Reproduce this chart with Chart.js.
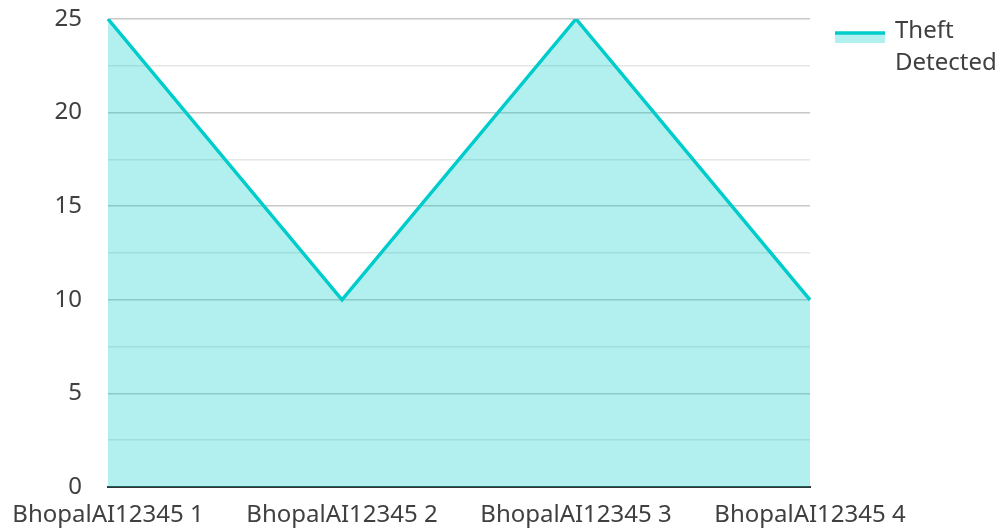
<!DOCTYPE html>
<html>
<head>
<meta charset="utf-8">
<script src="https://cdn.jsdelivr.net/npm/chart.js@4.4.0/dist/chart.umd.min.js"></script>
<style>
  html, body { margin: 0; padding: 0; background: #fff; }
  #wrap { width: 1000px; height: 528px; }
</style>
</head>
<body>
<div id="wrap"><canvas id="grafico" width="1000" height="528"></canvas></div>
<script>
const categorias = ['BhopalAI12345 1', 'BhopalAI12345 2', 'BhopalAI12345 3', 'BhopalAI12345 4'];
const furtos = [25, 10, 25, 10];
const legendaTexto = ['Theft', 'Detected'];

const corLinha = '#00cccc';
const corArea = 'rgba(0, 204, 204, 0.3)';
const fonte = '"Noto Sans", "Open Sans", sans-serif';

// legenda desenhada à mão, pra poder quebrar o texto em duas linhas
const legendaPlugin = {
    id: 'legendaLateral',
    afterDraw(chart) {
        const ctx = chart.ctx;
        ctx.save();
        ctx.fillStyle = corArea;
        ctx.fillRect(835, 32, 50, 11);
        ctx.strokeStyle = corLinha;
        ctx.lineWidth = 3.5;
        ctx.beginPath();
        ctx.moveTo(835, 33);
        ctx.lineTo(885, 33);
        ctx.stroke();
        ctx.fillStyle = '#404040';
        ctx.font = '24px ' + fonte;
        ctx.textBaseline = 'middle';
        ctx.textAlign = 'left';
        legendaTexto.forEach((t, i) => ctx.fillText(t, 895, 31 + i * 32));
        ctx.restore();
    }
};

new Chart(document.getElementById('grafico'), {
    type: 'line',
    data: {
        labels: categorias,
        datasets: [{
            label: legendaTexto.join(' '),
            data: furtos,
            borderColor: corLinha,
            backgroundColor: corArea,
            borderWidth: 3.5,
            fill: 'origin',
            tension: 0,
            pointRadius: 0
        }]
    },
    options: {
        responsive: false,
        animation: false,
        layout: { padding: { top: 19, right: 190, left: 0, bottom: 0 } },
        plugins: {
            legend: { display: false },
            tooltip: { enabled: false }
        },
        scales: {
            x: {
                offset: false,
                grid: { display: false },
                border: { display: true, color: '#333', width: 2 },
                ticks: { color: '#404040', font: { size: 24, family: fonte }, maxRotation: 0, autoSkip: false, padding: 6 },
                afterFit: s => { s.height = 41; }
            },
            y: {
                min: 0,
                max: 25,
                ticks: {
                    stepSize: 2.5,
                    color: '#404040',
                    font: { size: 24, family: fonte },
                    padding: 26,
                    callback: v => (v % 5 === 0 ? v : '')
                },
                grid: {
                    drawTicks: false,
                    color: c => (c.tick.value % 5 === 0 ? '#c8c8c8' : '#e6e6e6'),
                    lineWidth: 1.5
                },
                border: { display: false },
                afterFit: s => { s.width = 108; s.paddingTop = 0; s.paddingBottom = 0; }
            }
        }
    },
    plugins: [legendaPlugin]
});
</script>
</body>
</html>
